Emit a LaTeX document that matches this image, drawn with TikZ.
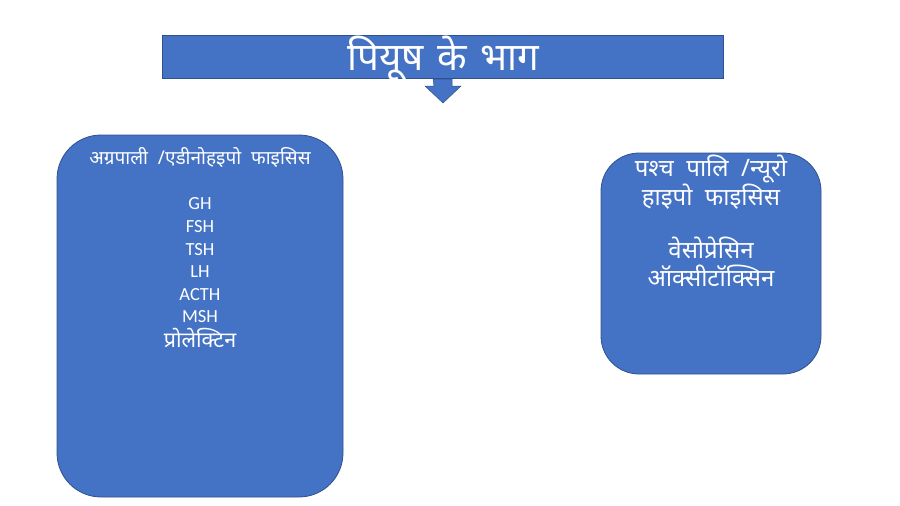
\documentclass[tikz,border=0pt]{standalone}
\usepackage{fontspec}
\setmainfont{Carlito}
\newfontfamily\hindi[Script=Devanagari]{Noto Sans}
\definecolor{boxblue}{HTML}{4472C4}
\definecolor{edgeblue}{HTML}{2F528F}
\tikzset{
  bluebox/.style={fill=boxblue, draw=edgeblue, line width=0.8pt},
  wtext/.style={text=white, align=center, inner sep=0pt},
}
\begin{document}
\begin{tikzpicture}[x=1pt,y=-1pt]
\useasboundingbox (0,0) rectangle (900,506);
% title bar
\path[bluebox] (162,35) rectangle (723,78);
\node[wtext, font=\hindi\fontsize{38.5}{40}\selectfont] (title) at (443,58.5) {पियूष\hspace{0.35em}के\hspace{0.35em}भाग};
% block arrow
\path[bluebox, line width=0.5pt] (433,79) -- (452,79) -- (452,86) -- (461,86) -- (443,103) -- (425,86) -- (434,86) -- cycle;
% left box
\path[bluebox, rounded corners=44pt] (57,135) rectangle (343,497);
\node[wtext, font=\hindi\fontsize{19}{22}\selectfont] (lefttitle) at (200,158) {अग्रपाली \ /एडीनोहइपो \ फाइसिस};
\node[wtext, font=\fontsize{18.5}{22.6}\selectfont] (hormones) at (200,260.5) {GH\\FSH\\TSH\\LH\\ACTH\\MSH};
\node[wtext, font=\hindi\fontsize{21.5}{22}\selectfont] (prolactin) at (200,338) {प्रोलेक्टिन};
% right box
\path[bluebox, rounded corners=38pt] (601,153) rectangle (821,374);
\node[wtext, font=\hindi\fontsize{24}{28}\selectfont] (righttitle) at (711,182) {पश्च \ पालि \ /न्यूरो\\हाइपो \ फाइसिस};
\node[wtext, font=\hindi\fontsize{24}{28}\selectfont] (righthorm) at (711,262) {वेसोप्रेसिन\\ऑक्सीटॉक्सिन};
\end{tikzpicture}
\end{document}
